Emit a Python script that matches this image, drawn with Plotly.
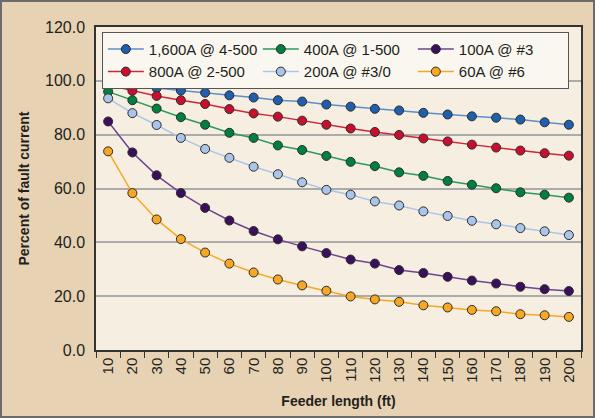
import plotly.graph_objects as go

# Feeder length categories (ft)
lengths = [str(v) for v in range(10, 201, 10)]

# Percent of fault current
pct_1600a = [98.8, 98.1, 97.3, 96.4, 95.6, 94.6, 93.8, 92.8, 92.3, 91.2,
             90.4, 89.6, 89.0, 88.1, 87.5, 86.8, 86.3, 85.6, 84.6, 83.7]
pct_800a = [98.4, 96.3, 94.4, 92.8, 91.4, 89.5, 87.9, 86.7, 85.2, 83.7,
            82.3, 81.0, 79.9, 78.6, 77.5, 76.3, 75.2, 74.1, 73.1, 72.2]
pct_400a = [96.0, 92.8, 89.7, 86.5, 83.7, 80.7, 78.8, 76.0, 74.3, 72.1,
            69.9, 68.3, 66.0, 64.7, 62.8, 61.4, 60.1, 58.6, 57.7, 56.6]
pct_200a = [93.5, 88.0, 83.6, 78.8, 74.7, 71.4, 68.1, 65.3, 62.3, 59.5,
            57.7, 55.2, 53.7, 51.5, 49.8, 48.0, 46.7, 45.3, 44.1, 42.7]
pct_100a = [84.9, 73.4, 64.9, 58.3, 52.8, 48.1, 44.2, 41.1, 38.5, 36.0,
            33.6, 32.1, 29.7, 28.6, 27.2, 25.8, 24.7, 23.5, 22.6, 21.9]
pct_60a = [73.8, 58.3, 48.5, 41.2, 36.2, 32.1, 28.8, 26.2, 24.0, 22.0,
           19.9, 18.8, 17.9, 16.6, 15.8, 14.9, 14.4, 13.3, 12.9, 12.3]

# name, values, marker colour, line colour, legend rank
series = [
    ("1,600A @ 4-500", pct_1600a, "#1f5fad", "#5b8fcc", 1),
    ("800A @ 2-500", pct_800a, "#c8102e", "#d2253d", 4),
    ("400A @ 1-500", pct_400a, "#00803f", "#2a9a5e", 2),
    ("200A @ #3/0", pct_200a, "#a9c6ea", "#a9c6ea", 5),
    ("100A @ #3", pct_100a, "#3a0f5c", "#6a4690", 3),
    ("60A @ #6", pct_60a, "#f7a823", "#f7a823", 6),
]

fig = go.Figure()
for name, vals, mcol, lcol, rank in series:
    fig.add_trace(go.Scatter(
        x=lengths, y=vals, name=name, mode="lines+markers",
        line=dict(color=lcol, width=1.5),
        marker=dict(color=mcol, size=9, line=dict(color="#2b2b2b", width=1)),
        legendrank=rank,
    ))

fig.update_layout(
    width=595, height=418,
    margin=dict(l=96, r=14, t=27, b=68, autoexpand=False),
    paper_bgcolor="#e7d3b3",
    plot_bgcolor="#f6eee0",
    font=dict(family="Liberation Sans, Arial, sans-serif", color="#231f20"),
    showlegend=True,
    legend=dict(
        orientation="h", x=0.012, y=0.985, xanchor="left", yanchor="top",
        bgcolor="#faf7f0", bordercolor="#555555", borderwidth=1,
        font=dict(size=15), entrywidth=104, entrywidthmode="pixels",
        itemwidth=36, traceorder="normal",
    ),
    xaxis=dict(
        type="category", tickson="boundaries", ticks="outside", ticklen=6,
        tickcolor="#333333", tickangle=-90, tickfont=dict(size=15),
        range=[-0.5, 19.5],
        showgrid=False, showline=True, linecolor="#333333", linewidth=1.5,
        mirror=True, automargin=False,
        title=dict(text="<b>Feeder length (ft)</b>", font=dict(size=14),
                   standoff=14),
    ),
    yaxis=dict(
        range=[0, 120], dtick=20, tickformat=".1f", tickfont=dict(size=16),
        showgrid=True, gridcolor="#ababab", gridwidth=1.5,
        showline=True, linecolor="#333333", linewidth=1.5, mirror=True,
        zeroline=False, ticks="", ticklabelstandoff=6, automargin=False,
        title=dict(text="<b>Percent of fault current</b>", font=dict(size=14),
                   standoff=12),
    ),
)

# grey frame around the whole picture
pw, ph = 595 - 96 - 14, 418 - 27 - 68
fig.add_shape(
    type="rect", xref="paper", yref="paper",
    x0=-95 / pw, x1=1 + 13 / pw, y0=-67 / ph, y1=1 + 26 / ph,
    line=dict(color="#6b6b6b", width=2), fillcolor="rgba(0,0,0,0)",
    layer="below",
)

fig.write_html("out.html", config={"displayModeBar": False},
               post_script="document.body.style.margin='0px';")
